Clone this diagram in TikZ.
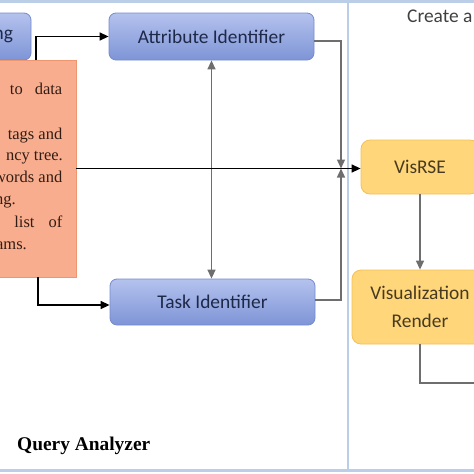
\documentclass[tikz,border=0pt]{standalone}
\usepackage{fontspec}
\setmainfont{Liberation Serif}
\newfontfamily\boxfont{Carlito}
\usepackage{tikz}
\usetikzlibrary{arrows.meta}
\definecolor{laneblue}{RGB}{186,206,232}
\definecolor{idtop}{RGB}{180,194,238}
\definecolor{idbottom}{RGB}{126,148,214}
\definecolor{idborder}{RGB}{118,138,204}
\definecolor{idtext}{RGB}{30,40,72}
\definecolor{renderfill}{RGB}{255,215,122}
\definecolor{renderborder}{RGB}{244,192,86}
\definecolor{rendertext}{RGB}{72,58,32}
\definecolor{notefill}{RGB}{248,174,142}
\definecolor{noteborder}{RGB}{238,150,112}
\definecolor{notetext}{RGB}{50,28,20}
\definecolor{wiregray}{RGB}{110,110,110}

\begin{document}
\begin{tikzpicture}[x=1pt,y=-1pt,
                        boxtext/.style={font=\boxfont\fontsize{19.4}{28}\selectfont},
                        identifier/.style={boxtext, draw=idborder, line width=0.8pt, top color=idtop, bottom color=idbottom, text=idtext, rounded corners=7pt, minimum width=205pt, minimum height=47pt},
                        render/.style={boxtext, draw=renderborder, line width=0.8pt, fill=renderfill, text=rendertext, rounded corners=9pt, align=center},
                        noteline/.style={anchor=mid east, inner sep=0pt, font=\fontsize{16.5}{21}\selectfont, text=notetext},
                        wire/.style={line width=1.4pt, black},
                        greywire/.style={line width=1.4pt, wiregray},
                        tip/.style={-{Triangle[length=9pt,width=8pt]}}]
                        \useasboundingbox (0,0) rectangle (474,474);
                        \clip (0,0) rectangle (474,474);

                        \draw[laneblue, line width=3pt] (0,1.5) -- (474,1.5);
                        \draw[laneblue, line width=3pt] (0,470.5) -- (474,470.5);
                        \draw[laneblue, line width=1.5pt] (348,0) -- (348,470);

                        \node[identifier, text width=115pt, align=right, inner xsep=18pt, minimum width=151pt] (prep) at (-44.5,36.5) {ng};
                        \node[identifier] (attr) at (211.5,36.5) {Attribute Identifier};
                        \node[identifier, minimum height=46pt] (task) at (212.5,302) {Task Identifier};

                        \node[draw=noteborder, line width=0.8pt, fill=notefill, minimum width=136pt, minimum height=217pt] (note) at (8,168.5) {};
                        \foreach \y/\x/\t [count=\i] in {92/62.5/to\hspace{12pt}data, 137/62.5/tags and, 158/63/ncy tree., 180/62.5/words and, 202/16/ng., 225/62.5/list\hspace{14pt}of, 247/27/ams.} {
                            \node[noteline] (note\i) at (\x,\y) {\t};
                        }

                        \node[render, minimum width=118pt, minimum height=54pt] (visrse) at (420,167) {VisRSE};
                        \node[render, minimum width=136pt, minimum height=74pt] (vrender) at (420,307) {Visualization\\Render};

                        \node[anchor=west, inner sep=0pt, boxtext, text=black!75] (create) at (407,16) {Create a};
                        \node[anchor=west, inner sep=0pt, font=\bfseries\fontsize{19.4}{24}\selectfont] (lane) at (17,446) {Query Analyzer};

                        \coordinate (join) at (341,168.5);
                        \coordinate (exit) at (474,383);

                        \draw[wire, tip] ([xshift=28pt]note.north) |- (attr.west);
                        \draw[wire, tip] ([xshift=30pt]note.south) |- ([yshift=-3pt]task.west);
                        \draw[greywire, {Triangle[length=9pt,width=8pt]}-{Triangle[length=9pt,width=8pt]}] (attr.south) -- (attr.south |- task.north);
                        \draw[wire, tip] (note.east) -- (note.east -| visrse.west);
                        \draw[greywire, tip] ([yshift=-4.5pt]attr.east) -| (join);
                        \draw[greywire, tip] ([yshift=2pt]task.east) -| (join);
                        \draw[greywire, tip] (visrse.south) -- (vrender.north);
                        \draw[greywire] (vrender.south) |- (exit);
                    \end{tikzpicture}
\end{document}
